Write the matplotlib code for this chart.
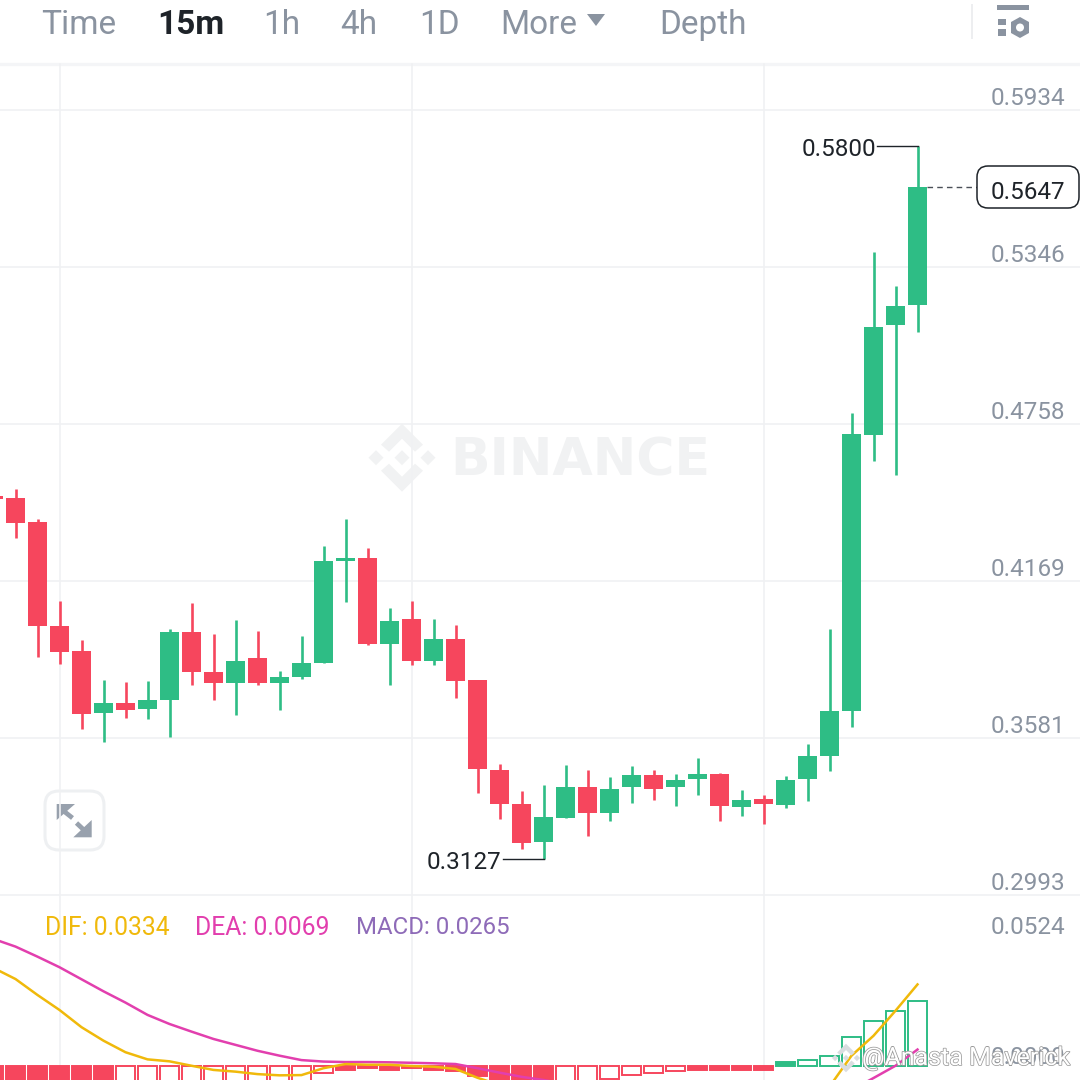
import matplotlib
matplotlib.use("Agg")
import matplotlib.pyplot as plt
import matplotlib.patheffects as pe
import numpy as np
from matplotlib.patches import FancyBboxPatch, Polygon, Circle, Rectangle

plt.rcParams["font.family"] = ["Roboto", "DejaVu Sans"]

GREEN = "#2EBD85"
RED = "#F6465D"
GRID = "#F0F1F3"
GRAY = "#8A93A0"
DARK = "#1E2329"
WATERMARK = "#F1F2F3"

opens = [0.4487, 0.4481, 0.4390, 0.4002, 0.3907, 0.3673, 0.3711, 0.3690, 0.3724, 0.3979, 0.3827,
         0.3787, 0.3879, 0.3789, 0.3811, 0.3863, 0.4245, 0.4256, 0.3933, 0.4028, 0.3871, 0.3952,
         0.3797, 0.3460, 0.3334, 0.3193, 0.3283, 0.3398, 0.3301, 0.3398, 0.3441, 0.3398, 0.3429,
         0.3448, 0.3324, 0.3353, 0.3332, 0.3429, 0.3515, 0.3681, 0.4716, 0.5129, 0.5203]
highs = [0.4487, 0.4515, 0.4402, 0.4095, 0.3950, 0.3799, 0.3792, 0.3796, 0.3988, 0.4085, 0.3971,
         0.4024, 0.3982, 0.3833, 0.3963, 0.4299, 0.4401, 0.4293, 0.4069, 0.4096, 0.4028, 0.4004,
         0.3799, 0.3484, 0.3383, 0.3406, 0.3481, 0.3461, 0.3435, 0.3477, 0.3462, 0.3447, 0.3508,
         0.3450, 0.3385, 0.3369, 0.3437, 0.3560, 0.3990, 0.4800, 0.5400, 0.5274, 0.5800]
lows = [0.4475, 0.4331, 0.3883, 0.3859, 0.3616, 0.3565, 0.3657, 0.3654, 0.3586, 0.3778, 0.3722,
        0.3666, 0.3781, 0.3686, 0.3804, 0.3861, 0.4089, 0.3928, 0.3781, 0.3853, 0.3853, 0.3732,
        0.3376, 0.3276, 0.3166, 0.3127, 0.3280, 0.3214, 0.3272, 0.3339, 0.3350, 0.3325, 0.3369,
        0.3272, 0.3290, 0.3258, 0.3320, 0.3345, 0.3456, 0.3621, 0.4617, 0.4568, 0.5102]
closes = [0.4475, 0.4385, 0.4002, 0.3904, 0.3672, 0.3713, 0.3687, 0.3722, 0.3979, 0.3827, 0.3787,
          0.3871, 0.3789, 0.3810, 0.3863, 0.4245, 0.4255, 0.3934, 0.4021, 0.3868, 0.3953, 0.3796,
          0.3466, 0.3335, 0.3189, 0.3285, 0.3399, 0.3301, 0.3391, 0.3444, 0.3389, 0.3425, 0.3447,
          0.3325, 0.3350, 0.3334, 0.3425, 0.3514, 0.3682, 0.4721, 0.5119, 0.5200, 0.5647]

dif = [0.0401, 0.0356, 0.0291, 0.0230, 0.0160, 0.0105, 0.0058, 0.0029, 0.0021, 0.0003, -0.0014,
       -0.0021, -0.0031, -0.0036, -0.0035, -0.0007, 0.0010, 0.0007, 0.0007, 0.0002, -0.0001, -0.0010,
       -0.0046, -0.0075, -0.0104, -0.0128, -0.0144, -0.0153, -0.0161, -0.0165, -0.0161, -0.0157, -0.0153,
       -0.0149, -0.0144, -0.0140, -0.0136, -0.0120, -0.0082, 0.0044, 0.0125, 0.0227, 0.0334]
dea = [0.0519, 0.0488, 0.0447, 0.0404, 0.0355, 0.0306, 0.0260, 0.0210, 0.0173, 0.0142, 0.0112,
       0.0088, 0.0064, 0.0044, 0.0026, 0.0020, 0.0018, 0.0018, 0.0017, 0.0015, 0.0013, 0.0010,
       -0.0007, -0.0025, -0.0042, -0.0055, -0.0071, -0.0088, -0.0104, -0.0116, -0.0124, -0.0132, -0.0136,
       -0.0140, -0.0144, -0.0144, -0.0144, -0.0140, -0.0128, -0.0096, -0.0047, 0.0003, 0.0069]
macd = [-0.0118, -0.0132, -0.0156, -0.0174, -0.0195, -0.0205, -0.0202, -0.0181, -0.0152, -0.0139, -0.0126,
        -0.0109, -0.0095, -0.0080, -0.0061, -0.0025, -0.0014, -0.0006, -0.0014, -0.0006, -0.0014, -0.0018,
        -0.0039, -0.0060, -0.0066, -0.0076, -0.0073, -0.0065, -0.0051, -0.0035, -0.0026, -0.0018, -0.0014,
        -0.0014, -0.0014, -0.0014, 0.0017, 0.0026, 0.0044, 0.0121, 0.0186, 0.0226, 0.0265]

price_ticks = [0.5934, 0.5346, 0.4758, 0.4169, 0.3581, 0.2993]
macd_ticks = [0.0524, 0.0000]
time_grid = [3, 19, 35]
nav_labels = ["Time", "15m", "1h", "4h", "1D", "More", "Depth"]


def ui_text(ax, x, y, s, size=17.5, color=GRAY, ha="left", **kwargs):
    return ax.text(x, y, s, fontsize=size, color=color, ha=ha, va="center", **kwargs)


def setup_ui_axes(fig, zorder):
    ax = fig.add_axes([0, 0, 1, 1], zorder=zorder)
    ax.set_xlim(0, 1080)
    ax.set_ylim(1080, 0)
    ax.axis("off")
    return ax


def draw_candles(ax, x):
    o, h, l, c = map(np.asarray, (opens, highs, lows, closes))
    colors = [GREEN if b >= a else RED for a, b in zip(o, c)]
    ax.vlines(x, l, h, colors=colors, linewidth=1.9, zorder=3)
    ax.bar(x, np.abs(c - o), bottom=np.minimum(o, c), width=0.875, color=colors, zorder=4)


def draw_macd(ax, x):
    values = np.asarray(macd)
    for i, value in enumerate(values):
        color = GREEN if value >= 0 else RED
        rising = i > 0 and value > values[i - 1]
        hollow = rising and abs(value) > 0.0017
        ax.bar(x[i], value, width=0.87, facecolor="white" if hollow else color, edgecolor=color,
               linewidth=1.4, zorder=2)
    ax.plot(x, dea, color="#E23FAE", linewidth=1.8, zorder=3)
    ax.plot(x, dif, color="#F0B90B", linewidth=1.8, zorder=4)


def draw_logo(ax, cx, cy, scale=1.0, color=WATERMARK, **kwargs):
    top = np.array([(0, -34), (21, -13), (13, -6), (0, -19), (-13, -6), (-21, -13)], dtype=float)
    for sign in (1, -1):
        pts = top * [1, sign] * scale + [cx, cy]
        ax.add_patch(Polygon(pts, closed=True, color=color, lw=0, **kwargs))
    diamond = np.array([(0, -7.5), (7.5, 0), (0, 7.5), (-7.5, 0)])
    for dx in (-26, 0, 26):
        ax.add_patch(Polygon(diamond * scale + [cx + dx * scale, cy], closed=True, color=color, lw=0, **kwargs))


def draw_chrome(ax):
    # nav row
    nav_x = [41, 157, 263, 340, 419, 500, 659]
    for label, px in zip(nav_labels, nav_x):
        active = label == "15m"
        ui_text(ax, px, 25, label, size=24, color=DARK if active else GRAY,
                fontweight="bold" if active else "normal")
    ax.add_patch(Polygon([(587, 14), (605, 14), (596, 26)], closed=True, color=GRAY, lw=0))
    ax.plot([972, 972], [5, 38], color="#EDEEF0", lw=1.4)
    ax.add_patch(Rectangle((997, 5), 32, 5, color=GRAY, lw=0))
    ax.add_patch(Rectangle((998, 19), 8, 6, color=GRAY, lw=0))
    ax.add_patch(Rectangle((998, 29), 8, 7, color=GRAY, lw=0))
    hex_pts = [(1020, 17), (1029, 22), (1029, 33), (1020, 38), (1011, 33), (1011, 22)]
    ax.add_patch(Polygon(hex_pts, closed=True, color=GRAY, lw=0))
    ax.add_patch(Circle((1020, 27.5), 4, color="white", lw=0))
    ax.plot([0, 1080], [63.5, 63.5], color="#F4F5F7", lw=2.4)

    # background watermark
    draw_logo(ax, 402, 457.7)
    ax.text(580, 462, "BINANCE", fontsize=37.5, fontweight="bold", color=WATERMARK, ha="center",
            va="center", family=["DejaVu Sans"])

    # expand button
    ax.add_patch(FancyBboxPatch((59, 805), 31, 31, boxstyle="round,pad=14,rounding_size=14",
                                fc="white", ec="#EEF0F2", lw=2.2))
    ax.add_patch(Polygon([(56.7, 804), (75, 804), (56.7, 820)], closed=True, color="#98A1AD", lw=0))
    ax.add_patch(Polygon([(91.7, 837.3), (91.7, 820), (73.3, 837.3)], closed=True, color="#98A1AD", lw=0))
    ax.plot([63, 72.5], [810.5, 818], color="#98A1AD", lw=3.4, solid_capstyle="butt")
    ax.plot([76.5, 85], [823, 831], color="#98A1AD", lw=3.4, solid_capstyle="butt")


fig = plt.figure(figsize=(10.8, 10.8), dpi=100, facecolor="white")
ax_back = setup_ui_axes(fig, 0)
draw_chrome(ax_back)

ax_price = fig.add_axes([0, 185 / 1080, 1, 831 / 1080], zorder=1)
ax_macd = fig.add_axes([0, 0, 1, 185 / 1080], zorder=1)
x = np.arange(len(closes))
for ax in (ax_price, ax_macd):
    ax.set_xlim(6.5 / 22, 1086.5 / 22)
    ax.patch.set_alpha(0)
    ax.axis("off")
    for t in time_grid:
        ax.axvline(t, color=GRID, linewidth=1.2, zorder=1, clip_on=False)
ax_price.set_ylim(0.2993, 0.6106)
ax_macd.set_ylim(-0.0055, 0.0698)

for tick in price_ticks:
    ax_price.annotate(f"{tick:.4f}", (1065 / 1080, tick), xycoords=("axes fraction", "data"),
                      xytext=(0, 8), textcoords="offset points", ha="right", va="center",
                      fontsize=17.5, color=GRAY)
    ax_price.axhline(tick, color=GRID, linewidth=1.2, zorder=1, clip_on=False)

draw_candles(ax_price, x)
draw_macd(ax_macd, x)

# high / low / last price callouts
hi = int(np.argmax(highs))
lo = int(np.argmin(lows))
last = closes[-1]
ax_price.plot([hi - 1.83, hi], [highs[hi], highs[hi]], color=DARK, linewidth=1.0, zorder=5)
ax_price.annotate(f"{highs[hi]:.4f}", (hi - 1.87, highs[hi]), xytext=(0, -2.6), textcoords="offset points",
                  ha="right", va="center", fontsize=17.5, color=DARK)
ax_price.plot([lo - 1.82, lo], [lows[lo], lows[lo]], color=DARK, linewidth=1.0, zorder=5)
ax_price.annotate(f"{lows[lo]:.4f}", (lo - 1.92, lows[lo]), xytext=(0, -2.4), textcoords="offset points",
                  ha="right", va="center", fontsize=17.5, color=DARK)
ax_price.plot([x[-1] + 0.44, x[-1] + 2.7], [last, last], color="#4A4F57", linewidth=1.0,
              linestyle=(0, (4, 3)), zorder=5)

ax_front = setup_ui_axes(fig, 2)
ax_front.add_patch(FancyBboxPatch((987, 176), 82, 22, boxstyle="round,pad=10,rounding_size=11",
                                  fc="white", ec=DARK, lw=1.1))
ui_text(ax_front, 1065, 192.5, f"{last:.4f}", color=DARK, ha="right")

# macd legend and axis labels
ui_text(ax_front, 45, 928, f"DIF: {dif[-1]:.4f}", size=17.8, color="#F0B90B")
ui_text(ax_front, 195, 928, f"DEA: {dea[-1]:.4f}", size=17.8, color="#E23FAE")
ui_text(ax_front, 356, 928, f"MACD: {macd[-1]:.4f}", size=17.3, color="#8E6BB8")
ui_text(ax_front, 1065, 928, f"{macd_ticks[0]:.4f}", ha="right")
ui_text(ax_front, 1065, 1058, f"{macd_ticks[1]:.4f}", ha="right")

# repost watermark over everything
outline = [pe.withStroke(linewidth=1.1, foreground="#9A9A9A")]
ax_front.text(862, 1058, "@Anasta Maverick", fontsize=18, color="white", ha="left", va="center",
              path_effects=outline)
draw_logo(ax_front, 846, 1058, scale=0.42, color="#DADDE0")

fig.savefig("out.png", dpi=100)
plt.close(fig)
